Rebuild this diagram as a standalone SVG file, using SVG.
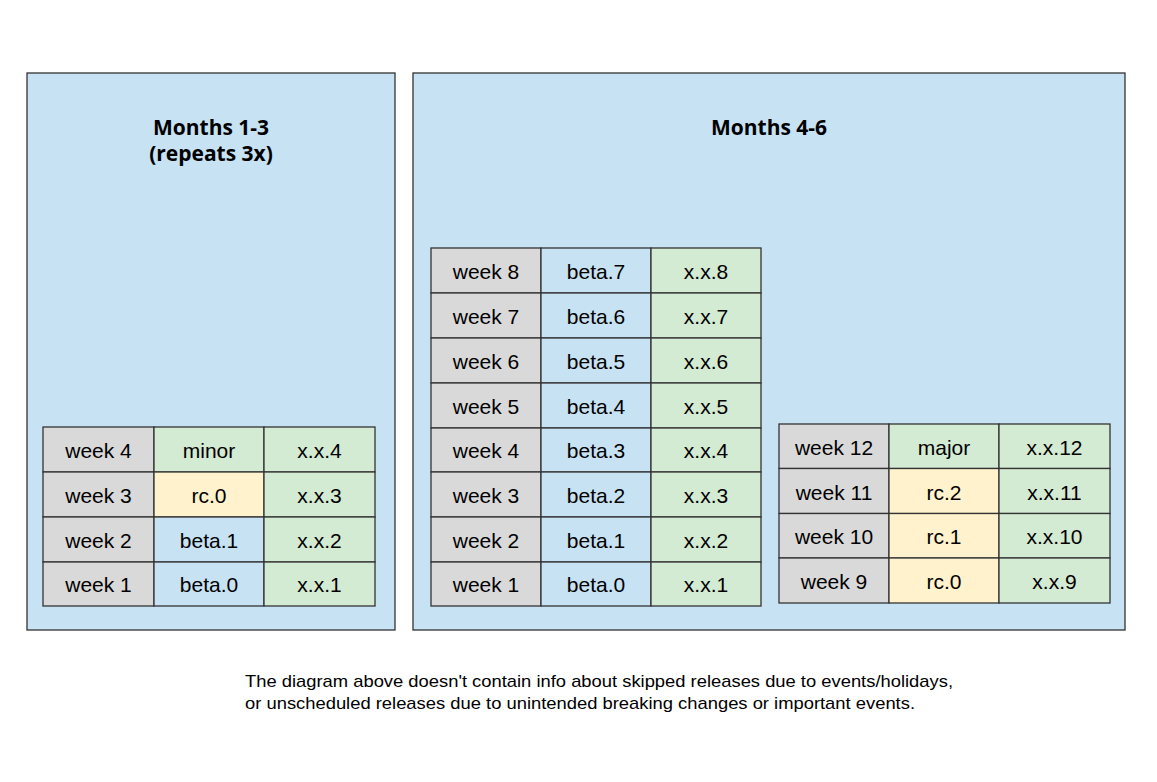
<svg xmlns="http://www.w3.org/2000/svg" width="1157" height="782" viewBox="0 0 1157 782">
<style>
.panel{fill:#c6e2f3;stroke:#333;stroke-width:1.3}
.c{stroke:#333;stroke-width:1.3}
.g{fill:#d9d9d9}
.b{fill:#c6e2f3}
.n{fill:#d3ead3}
.y{fill:#fff2cc}
.t{font-family:"Liberation Sans",Arial,sans-serif;font-size:21px;fill:#000;text-anchor:middle}
.h{font-family:"Open Sans",sans-serif;font-weight:bold;font-size:21px;fill:#000;text-anchor:middle}
.f{font-family:"Liberation Sans",Arial,sans-serif;font-size:17px;fill:#000}
</style>
<rect width="1157" height="782" fill="#fff"/>
<g id="panel1">
<rect class="panel" x="27" y="73" width="368" height="557"/>
<text class="h" x="211" y="135">Months 1-3</text>
<text class="h" x="211" y="161">(repeats 3x)</text>
</g>
<g id="panel2">
<rect class="panel" x="413" y="73" width="712" height="557"/>
<text class="h" x="769" y="135">Months 4-6</text>
</g>
<g id="table1">
<rect class="c g" x="43" y="427" width="111" height="45"/><text class="t" x="98.5" y="458">week 4</text>
<rect class="c n" x="154" y="427" width="110" height="45"/><text class="t" x="209" y="458">minor</text>
<rect class="c n" x="264" y="427" width="111" height="45"/><text class="t" x="319.5" y="458">x.x.4</text>
<rect class="c g" x="43" y="472" width="111" height="45"/><text class="t" x="98.5" y="503">week 3</text>
<rect class="c y" x="154" y="472" width="110" height="45"/><text class="t" x="209" y="503">rc.0</text>
<rect class="c n" x="264" y="472" width="111" height="45"/><text class="t" x="319.5" y="503">x.x.3</text>
<rect class="c g" x="43" y="517" width="111" height="45"/><text class="t" x="98.5" y="548">week 2</text>
<rect class="c b" x="154" y="517" width="110" height="45"/><text class="t" x="209" y="548">beta.1</text>
<rect class="c n" x="264" y="517" width="111" height="45"/><text class="t" x="319.5" y="548">x.x.2</text>
<rect class="c g" x="43" y="562" width="111" height="44"/><text class="t" x="98.5" y="592">week 1</text>
<rect class="c b" x="154" y="562" width="110" height="44"/><text class="t" x="209" y="592">beta.0</text>
<rect class="c n" x="264" y="562" width="111" height="44"/><text class="t" x="319.5" y="592">x.x.1</text>
</g>
<g id="table2">
<rect class="c g" x="431" y="248" width="110" height="45"/><text class="t" x="486" y="279">week 8</text>
<rect class="c b" x="541" y="248" width="110" height="45"/><text class="t" x="596" y="279">beta.7</text>
<rect class="c n" x="651" y="248" width="110" height="45"/><text class="t" x="706" y="279">x.x.8</text>
<rect class="c g" x="431" y="293" width="110" height="45"/><text class="t" x="486" y="324">week 7</text>
<rect class="c b" x="541" y="293" width="110" height="45"/><text class="t" x="596" y="324">beta.6</text>
<rect class="c n" x="651" y="293" width="110" height="45"/><text class="t" x="706" y="324">x.x.7</text>
<rect class="c g" x="431" y="338" width="110" height="45"/><text class="t" x="486" y="369">week 6</text>
<rect class="c b" x="541" y="338" width="110" height="45"/><text class="t" x="596" y="369">beta.5</text>
<rect class="c n" x="651" y="338" width="110" height="45"/><text class="t" x="706" y="369">x.x.6</text>
<rect class="c g" x="431" y="383" width="110" height="45"/><text class="t" x="486" y="414">week 5</text>
<rect class="c b" x="541" y="383" width="110" height="45"/><text class="t" x="596" y="414">beta.4</text>
<rect class="c n" x="651" y="383" width="110" height="45"/><text class="t" x="706" y="414">x.x.5</text>
<rect class="c g" x="431" y="428" width="110" height="44"/><text class="t" x="486" y="458">week 4</text>
<rect class="c b" x="541" y="428" width="110" height="44"/><text class="t" x="596" y="458">beta.3</text>
<rect class="c n" x="651" y="428" width="110" height="44"/><text class="t" x="706" y="458">x.x.4</text>
<rect class="c g" x="431" y="472" width="110" height="45"/><text class="t" x="486" y="503">week 3</text>
<rect class="c b" x="541" y="472" width="110" height="45"/><text class="t" x="596" y="503">beta.2</text>
<rect class="c n" x="651" y="472" width="110" height="45"/><text class="t" x="706" y="503">x.x.3</text>
<rect class="c g" x="431" y="517" width="110" height="45"/><text class="t" x="486" y="548">week 2</text>
<rect class="c b" x="541" y="517" width="110" height="45"/><text class="t" x="596" y="548">beta.1</text>
<rect class="c n" x="651" y="517" width="110" height="45"/><text class="t" x="706" y="548">x.x.2</text>
<rect class="c g" x="431" y="562" width="110" height="44"/><text class="t" x="486" y="592">week 1</text>
<rect class="c b" x="541" y="562" width="110" height="44"/><text class="t" x="596" y="592">beta.0</text>
<rect class="c n" x="651" y="562" width="110" height="44"/><text class="t" x="706" y="592">x.x.1</text>
</g>
<g id="table3">
<rect class="c g" x="779" y="424" width="110" height="44.5"/><text class="t" x="834" y="455">week 12</text>
<rect class="c n" x="889" y="424" width="110" height="44.5"/><text class="t" x="944" y="455">major</text>
<rect class="c n" x="999" y="424" width="111" height="44.5"/><text class="t" x="1054.5" y="455">x.x.12</text>
<rect class="c g" x="779" y="468.5" width="110" height="45"/><text class="t" x="834" y="499.5">week 11</text>
<rect class="c y" x="889" y="468.5" width="110" height="45"/><text class="t" x="944" y="499.5">rc.2</text>
<rect class="c n" x="999" y="468.5" width="111" height="45"/><text class="t" x="1054.5" y="499.5">x.x.11</text>
<rect class="c g" x="779" y="513.5" width="110" height="44.5"/><text class="t" x="834" y="544">week 10</text>
<rect class="c y" x="889" y="513.5" width="110" height="44.5"/><text class="t" x="944" y="544">rc.1</text>
<rect class="c n" x="999" y="513.5" width="111" height="44.5"/><text class="t" x="1054.5" y="544">x.x.10</text>
<rect class="c g" x="779" y="558" width="110" height="45"/><text class="t" x="834" y="589">week 9</text>
<rect class="c y" x="889" y="558" width="110" height="45"/><text class="t" x="944" y="589">rc.0</text>
<rect class="c n" x="999" y="558" width="111" height="45"/><text class="t" x="1054.5" y="589">x.x.9</text>
</g>
<g id="connectors"></g>
<g id="note">
<text class="f" x="245" y="687" textLength="708" lengthAdjust="spacingAndGlyphs">The diagram above doesn't contain info about skipped releases due to events/holidays,</text>
<text class="f" x="245" y="709" textLength="670" lengthAdjust="spacingAndGlyphs">or unscheduled releases due to unintended breaking changes or important events.</text>
</g>
</svg>
